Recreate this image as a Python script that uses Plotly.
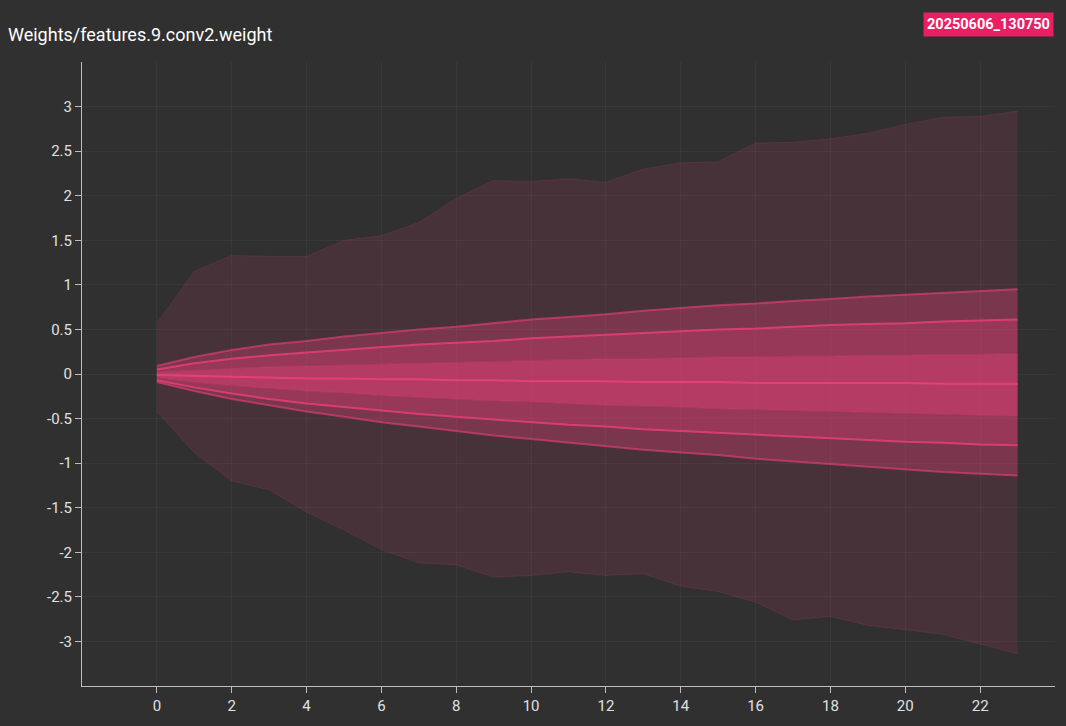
import plotly.graph_objects as go

steps = list(range(24))
p_max = [0.57,1.15,1.33,1.32,1.32,1.5,1.55,1.7,1.97,2.17,2.16,2.19,2.15,2.3,2.37,2.38,2.59,2.6,2.64,2.7,2.8,2.88,2.89,2.95]
p93 = [0.09,0.19,0.27,0.33,0.37,0.42,0.46,0.5,0.53,0.57,0.61,0.64,0.67,0.71,0.74,0.77,0.79,0.82,0.84,0.87,0.89,0.91,0.93,0.95]
p84 = [0.05,0.12,0.17,0.21,0.24,0.27,0.3,0.33,0.35,0.37,0.4,0.42,0.44,0.46,0.48,0.5,0.51,0.53,0.55,0.56,0.57,0.59,0.6,0.61]
p69 = [0.02,0.04,0.06,0.08,0.09,0.1,0.11,0.12,0.13,0.14,0.15,0.16,0.17,0.17,0.18,0.19,0.19,0.2,0.2,0.21,0.21,0.22,0.22,0.23]
p50 = [-0.01,-0.02,-0.03,-0.04,-0.05,-0.05,-0.06,-0.06,-0.07,-0.07,-0.08,-0.08,-0.08,-0.09,-0.09,-0.09,-0.1,-0.1,-0.1,-0.1,-0.1,-0.11,-0.11,-0.11]
p31 = [-0.04,-0.09,-0.13,-0.16,-0.19,-0.21,-0.24,-0.26,-0.28,-0.3,-0.31,-0.33,-0.35,-0.36,-0.37,-0.39,-0.4,-0.41,-0.42,-0.43,-0.44,-0.45,-0.46,-0.47]
p16 = [-0.07,-0.15,-0.22,-0.28,-0.33,-0.37,-0.41,-0.45,-0.48,-0.51,-0.54,-0.57,-0.59,-0.62,-0.64,-0.66,-0.68,-0.7,-0.72,-0.74,-0.76,-0.77,-0.79,-0.8]
p7 = [-0.09,-0.19,-0.28,-0.35,-0.42,-0.48,-0.54,-0.59,-0.64,-0.69,-0.73,-0.77,-0.81,-0.85,-0.88,-0.91,-0.95,-0.98,-1.01,-1.04,-1.07,-1.1,-1.12,-1.14]
p_min = [-0.42,-0.88,-1.2,-1.3,-1.55,-1.75,-1.97,-2.12,-2.14,-2.28,-2.26,-2.22,-2.26,-2.24,-2.38,-2.44,-2.56,-2.76,-2.72,-2.82,-2.87,-2.92,-3.03,-3.14]

series = [p_max, p93, p84, p69, p50, p31, p16, p7, p_min]
fill_alpha = [None, 0.12, 0.4, 0.55, 0.7, 0.7, 0.55, 0.4, 0.12]
line_alpha = [0.15, 0.6, 0.8, 0.3, 0.9, 0.3, 0.8, 0.6, 0.15]
base = "236,64,122"

fig = go.Figure()
for i, s in enumerate(series):
    fig.add_trace(go.Scatter(
        x=steps, y=s, mode="lines",
        line=dict(color=f"rgba({base},{line_alpha[i]})", width=2 if i in (1,2,4,6,7) else 1),
        fill=None if i == 0 else "tonexty",
        fillcolor=None if i == 0 else f"rgba({base},{fill_alpha[i]})",
        hoverinfo="skip", showlegend=False))

axcol = "#bdbdbd"
fig.update_layout(
    width=1066, height=726, paper_bgcolor="#303030", plot_bgcolor="#303030",
    margin=dict(l=82, r=11, t=62, b=35),
    font=dict(family="Roboto", color="#e0e0e0", size=15),
    xaxis=dict(range=[-2, 24], tickvals=list(range(0, 24, 2)), showgrid=True,
               gridcolor="rgba(255,255,255,0.04)", zeroline=False, showline=True,
               linecolor=axcol, ticks="outside", tickcolor=axcol, ticklen=6),
    yaxis=dict(range=[-3.5, 3.5], tickvals=[-3,-2.5,-2,-1.5,-1,-0.5,0,0.5,1,1.5,2,2.5,3],
               ticktext=["-3","-2.5","-2","-1.5","-1","-0.5","0","0.5","1","1.5","2","2.5","3"],
               showgrid=True, gridcolor="rgba(255,255,255,0.04)", zeroline=False,
               showline=True, linecolor=axcol, ticks="outside", tickcolor=axcol, ticklen=6),
    annotations=[
        dict(text="Weights/features.9.conv2.weight", xref="paper", yref="paper", x=-0.078, y=1.024,
             xanchor="left", yanchor="bottom", showarrow=False, font=dict(size=18, color="white")),
        dict(text="<b>20250606_130750</b>", xref="paper", yref="paper", x=0.999, y=1.04,
             xanchor="right", yanchor="bottom", showarrow=False, bgcolor="#e91e63",
             borderpad=3, font=dict(size=14.5, color="white")),
    ])
fig.write_html("out.html", config={"displayModeBar": False},
               post_script="document.body.style.margin='0';")
